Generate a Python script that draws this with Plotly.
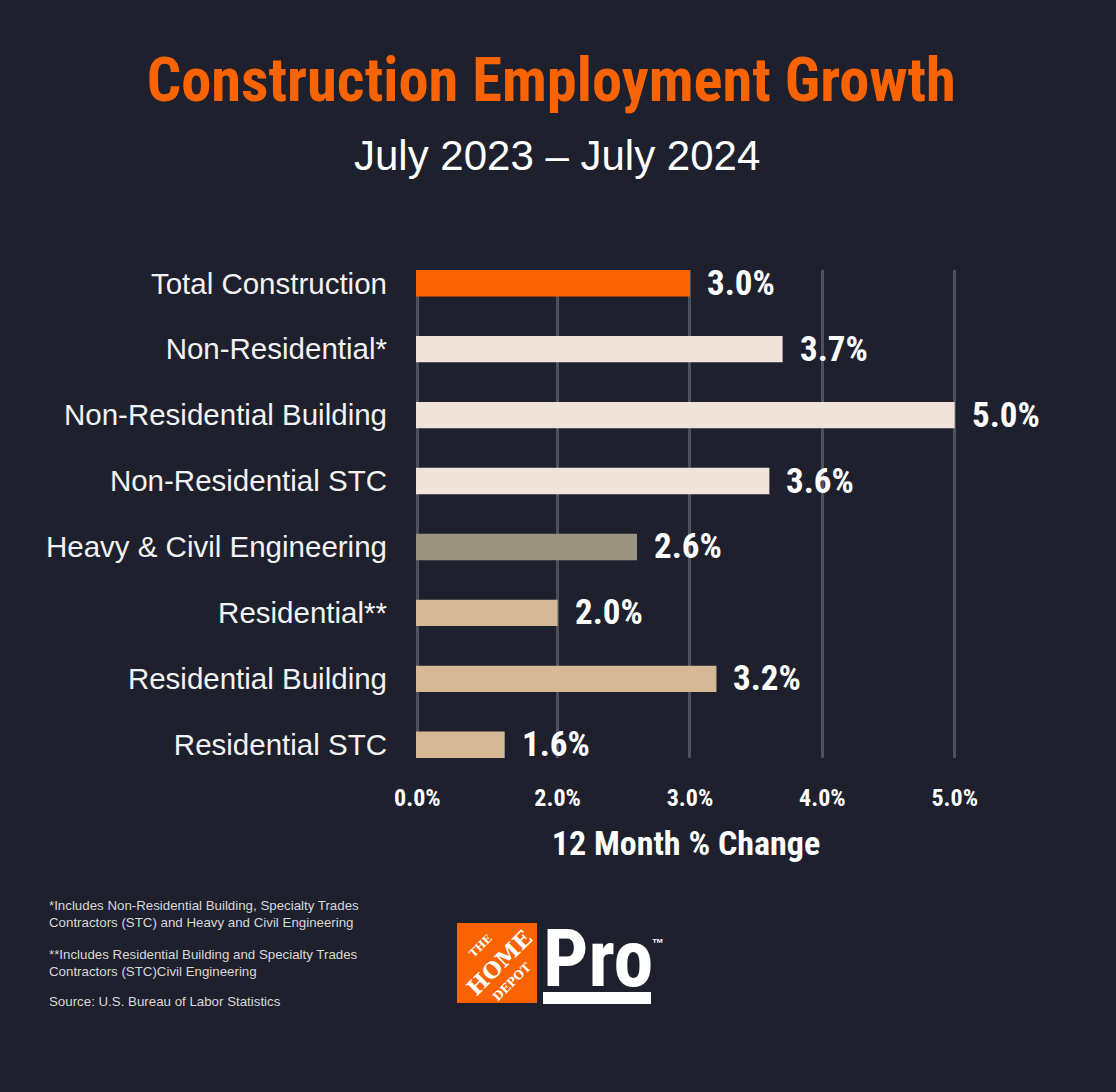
import plotly.graph_objects as go

# ---------------- data ----------------
categories = [
    "Total Construction",
    "Non-Residential*",
    "Non-Residential Building",
    "Non-Residential STC",
    "Heavy & Civil Engineering",
    "Residential**",
    "Residential Building",
    "Residential STC",
]
values = [3.0, 3.7, 5.0, 3.6, 2.6, 2.0, 3.2, 1.6]
value_labels = ["3.0%", "3.7%", "5.0%", "3.6%", "2.6%", "2.0%", "3.2%", "1.6%"]
tick_values = [0.94, 2.0, 3.0, 4.0, 5.0]
tick_labels = ["0.0%", "2.0%", "3.0%", "4.0%", "5.0%"]
footnotes = [
    "*Includes Non-Residential Building, Specialty Trades<br>Contractors (STC) and Heavy and Civil Engineering",
    "**Includes Residential Building and Specialty Trades<br>Contractors (STC)Civil Engineering",
    "Source: U.S. Bureau of Labor Statistics",
]

# ---------------- style ----------------
BG = "#1e202d"
ORANGE = "#f96302"
CREAM = "#efe3da"
OLIVE = "#9a9480"
TAN = "#d5b996"
GRID = "#4c4f5c"
bar_colors = [ORANGE, CREAM, CREAM, CREAM, OLIVE, TAN, TAN, TAN]

NARROW = "Roboto Condensed, Liberation Sans Narrow, Roboto, sans-serif"
SANS = "Liberation Sans, Arial, Helvetica, sans-serif"

W, H = 1116, 1092
L, R, T, B = 416, 160, 270, 334
PW, PH = W - L - R, H - T - B


def px_x(px):
    return (px - L) / PW


def px_y(py):
    return 1 - (py - T) / PH


fig = go.Figure()
fig.add_trace(
    go.Bar(
        y=categories,
        x=values,
        orientation="h",
        width=0.4,
        marker=dict(color=bar_colors, line=dict(width=0)),
        hoverinfo="skip",
    )
)

annotations = []
for c, v, lab in zip(categories, values, value_labels):
    annotations.append(
        dict(
            x=v, y=c, xref="x", yref="y", text=lab, showarrow=False,
            xanchor="left", yanchor="middle", xshift=15,
            font=dict(family=NARROW, size=35, color="white", weight="bold"),
        )
    )

# subtitle
annotations.append(
    dict(
        x=px_x(557), y=px_y(155), xref="paper", yref="paper",
        text="July 2023 – July 2024", showarrow=False,
        xanchor="center", yanchor="middle",
        font=dict(family=SANS, size=42, color="white"),
    )
)

# footnotes
foot_y = [914, 963, 1001]
for txt, yy in zip(footnotes, foot_y):
    annotations.append(
        dict(
            x=px_x(47), y=px_y(yy), xref="paper", yref="paper",
            text=txt, showarrow=False, align="left",
            xanchor="left", yanchor="middle",
            font=dict(family=SANS, size=13.3, color="#d8d8d8"),
        )
    )

# logo texts
SERIF = "DejaVu Serif, Liberation Serif, serif"
annotations += [
    dict(x=px_x(480), y=px_y(946), xref="paper", yref="paper", text="THE",
         showarrow=False, textangle=-45, xanchor="center", yanchor="middle",
         font=dict(family=SERIF, size=11, color="white", weight="bold")),
    dict(x=px_x(499), y=px_y(963), xref="paper", yref="paper", text="HOME",
         showarrow=False, textangle=-45, xanchor="center", yanchor="middle",
         font=dict(family=SERIF, size=22, color="white", weight="bold")),
    dict(x=px_x(512), y=px_y(982), xref="paper", yref="paper", text="DEPOT",
         showarrow=False, textangle=-45, xanchor="center", yanchor="middle",
         font=dict(family=SERIF, size=12, color="white", weight="bold")),
    dict(x=px_x(541), y=px_y(959), xref="paper", yref="paper", text="Pro",
         showarrow=False, xanchor="left", yanchor="middle",
         font=dict(family=NARROW, size=80, color="white", weight="bold")),
    dict(x=px_x(650), y=px_y(943), xref="paper", yref="paper", text="™",
         showarrow=False, xanchor="left", yanchor="middle",
         font=dict(family=SANS, size=12, color="white", weight="bold")),
]

shapes = [
    dict(type="rect", xref="paper", yref="paper",
         x0=px_x(457), x1=px_x(537), y0=px_y(923), y1=px_y(1003),
         fillcolor=ORANGE, line=dict(width=0), layer="below"),
    dict(type="rect", xref="paper", yref="paper",
         x0=px_x(543), x1=px_x(651), y0=px_y(992), y1=px_y(1004),
         fillcolor="white", line=dict(width=0)),
]

fig.update_layout(
    width=W, height=H,
    margin=dict(l=L, r=R, t=T, b=B, pad=0),
    paper_bgcolor=BG, plot_bgcolor=BG,
    showlegend=False,
    title=dict(
        text="Construction Employment Growth",
        x=0.494, xanchor="center", xref="container",
        y=1 - 80 / H, yanchor="middle", yref="container",
        font=dict(family=NARROW, size=60.5, color=ORANGE, weight="bold"),
    ),
    annotations=annotations,
    shapes=shapes,
    xaxis=dict(
        range=[0.93, 5.01],
        tickvals=tick_values, ticktext=tick_labels,
        showgrid=True, gridcolor=GRID, gridwidth=2.5,
        zeroline=False, showline=False, ticks="",
        ticklabelstandoff=23,
        tickfont=dict(family=NARROW, size=24, color="white", weight="bold"),
        title=dict(text="12 Month % Change", standoff=20,
                   font=dict(family=NARROW, size=34, color="white", weight="bold")),
        fixedrange=True,
    ),
    yaxis=dict(
        type="category",
        categoryorder="array", categoryarray=categories,
        range=[7.2, -0.2],
        showgrid=False, zeroline=False, showline=False, ticks="",
        ticklabelstandoff=28,
        tickfont=dict(family=SANS, size=29.5, color="#f2f2f2"),
        fixedrange=True,
    ),
)

fig.write_html("out.html")
